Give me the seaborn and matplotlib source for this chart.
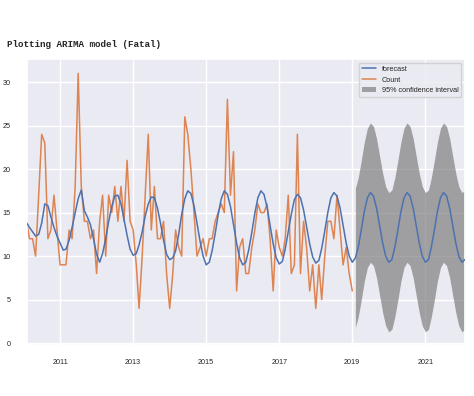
import matplotlib
matplotlib.use('Agg')
import matplotlib.pyplot as plt
import seaborn as sns
import pandas as pd

# monthly data, first month 2010-02
start_month = '2010-02-01'

count = [14, 12, 12, 10, 17, 24, 23, 12, 13, 17,
         13, 9, 9, 9, 13, 12, 18, 31, 18, 14,
         14, 12, 13, 8, 14, 17, 10, 17, 15, 18,
         14, 18, 14, 21, 14, 13, 9, 4, 10, 17,
         24, 13, 18, 12, 12, 14, 8, 4, 8, 13,
         11, 10, 26, 24, 20, 15, 10, 11, 12, 10,
         12, 12, 14, 15, 16, 15, 28, 17, 22, 6,
         11, 12, 8, 8, 11, 13, 16, 15, 15, 16,
         12, 6, 13, 11, 10, 12, 17, 8, 9, 24,
         8, 14, 11, 6, 9, 4, 9, 5, 10, 14,
         14, 12, 17, 13, 9, 11, 8, 6]

forecast = [13.8, 13.3, 12.8, 12.3, 12.5, 13.8, 16.0, 15.8, 14.5, 13.3, 12.3,
            11.5, 10.7, 10.8, 11.8, 13.3, 15.0, 16.6, 17.6, 15.2, 14.5, 13.6, 12.0,
            10.2, 9.3, 10.3, 12.0, 14.0, 15.7, 16.9, 17.0, 16.0, 14.2, 12.4, 10.8,
            10.1, 10.3, 11.3, 12.8, 14.6, 16.0, 16.8, 16.7, 15.5, 13.8, 11.8, 10.2,
            9.6, 9.8, 10.6, 12.5, 14.8, 16.6, 17.5, 17.2, 15.8, 13.8, 11.7, 10.0,
            9.0, 9.3, 10.6, 12.6, 14.8, 16.6, 17.5, 17.1, 15.7, 13.6, 11.5, 9.8,
            9.0, 9.3, 10.7, 12.7, 14.9, 16.7, 17.5, 17.1, 15.6, 13.5, 11.4, 9.8,
            9.1, 9.4, 10.8, 12.8, 14.8, 16.5, 17.1, 16.7, 15.3, 13.4, 11.4, 9.9,
            9.2, 9.5, 10.9, 12.9, 15.0, 16.7, 17.3, 16.9, 15.5, 13.5, 11.5, 10.0,
            9.3, 9.8, 11.0, 13.0, 15.1, 16.7, 17.3, 16.9, 15.5, 13.5, 11.5, 10.0,
            9.3, 9.6, 11.0, 13.0, 15.1, 16.7, 17.3, 16.9, 15.5, 13.5, 11.5, 10.0,
            9.3, 9.6, 11.0, 13.0, 15.1, 16.7, 17.3, 16.9, 15.5, 13.5, 11.5, 10.0,
            9.3, 9.6]

# 95% interval, 2019-02 onwards
ci_lower = [1.8, 3.0, 5.0, 7.1, 8.7, 9.3, 8.9, 7.5, 5.5, 3.5, 2.0,
            1.3, 1.6, 3.0, 5.0, 7.1, 8.7, 9.3, 8.9, 7.5, 5.5, 3.5, 2.0,
            1.3, 1.6, 3.0, 5.0, 7.1, 8.7, 9.3, 8.9, 7.5, 5.5, 3.5, 2.0,
            1.3, 1.6]
ci_upper = [17.8, 19.0, 21.0, 23.1, 24.7, 25.3, 24.9, 23.5, 21.5, 19.5, 18.0,
            17.3, 17.6, 19.0, 21.0, 23.1, 24.7, 25.3, 24.9, 23.5, 21.5, 19.5, 18.0,
            17.3, 17.6, 19.0, 21.0, 23.1, 24.7, 25.3, 24.9, 23.5, 21.5, 19.5, 18.0,
            17.3, 17.6]

year_ticks = ['2011', '2013', '2015', '2017', '2019', '2021']
y_ticks = [0, 5, 10, 15, 20, 25, 30]

dates = pd.date_range(start_month, periods=len(forecast), freq='MS')
fc_df = pd.DataFrame({'date': dates, 'forecast': forecast})
cnt_df = pd.DataFrame({'date': dates[:len(count)], 'Count': count})
ci_dates = dates[len(forecast) - len(ci_lower):]

sns.set_theme(style='darkgrid')
plt.rcParams['font.family'] = ['Liberation Sans', 'DejaVu Sans']

fig = plt.figure(figsize=(4.74, 3.96), dpi=100)
ax = fig.add_axes([0.0563, 0.129, 0.9247, 0.721])

sns.lineplot(data=fc_df, x='date', y='forecast', ax=ax, color='#4C72B0',
             lw=1.1, label='forecast', zorder=3)
sns.lineplot(data=cnt_df, x='date', y='Count', ax=ax, color='#DD8452',
             lw=1.1, label='Count', zorder=2)
ax.fill_between(ci_dates, ci_lower, ci_upper, color='gray', alpha=0.7, lw=0,
                label='95% confidence interval', zorder=1)

ax.set_xlim(dates[0], dates[-1])
ax.set_ylim(-0.2, 32.6)
ax.set_xticks([pd.Timestamp(y + '-01-01') for y in year_ticks])
ax.set_xticklabels(year_ticks)
ax.set_yticks(y_ticks)
ax.set_xlabel('')
ax.set_ylabel('')
ax.tick_params(axis='x', labelsize=5.2, pad=4.5)
ax.tick_params(axis='y', labelsize=5.2, pad=5.5)
ax.legend(loc='upper right', fontsize=5.2)

fig.text(0.0154, 0.881, 'Plotting ARIMA model (Fatal)', family='Liberation Mono',
         weight='bold', fontsize=6.7, va='baseline')

fig.savefig('out.png', dpi=100)
